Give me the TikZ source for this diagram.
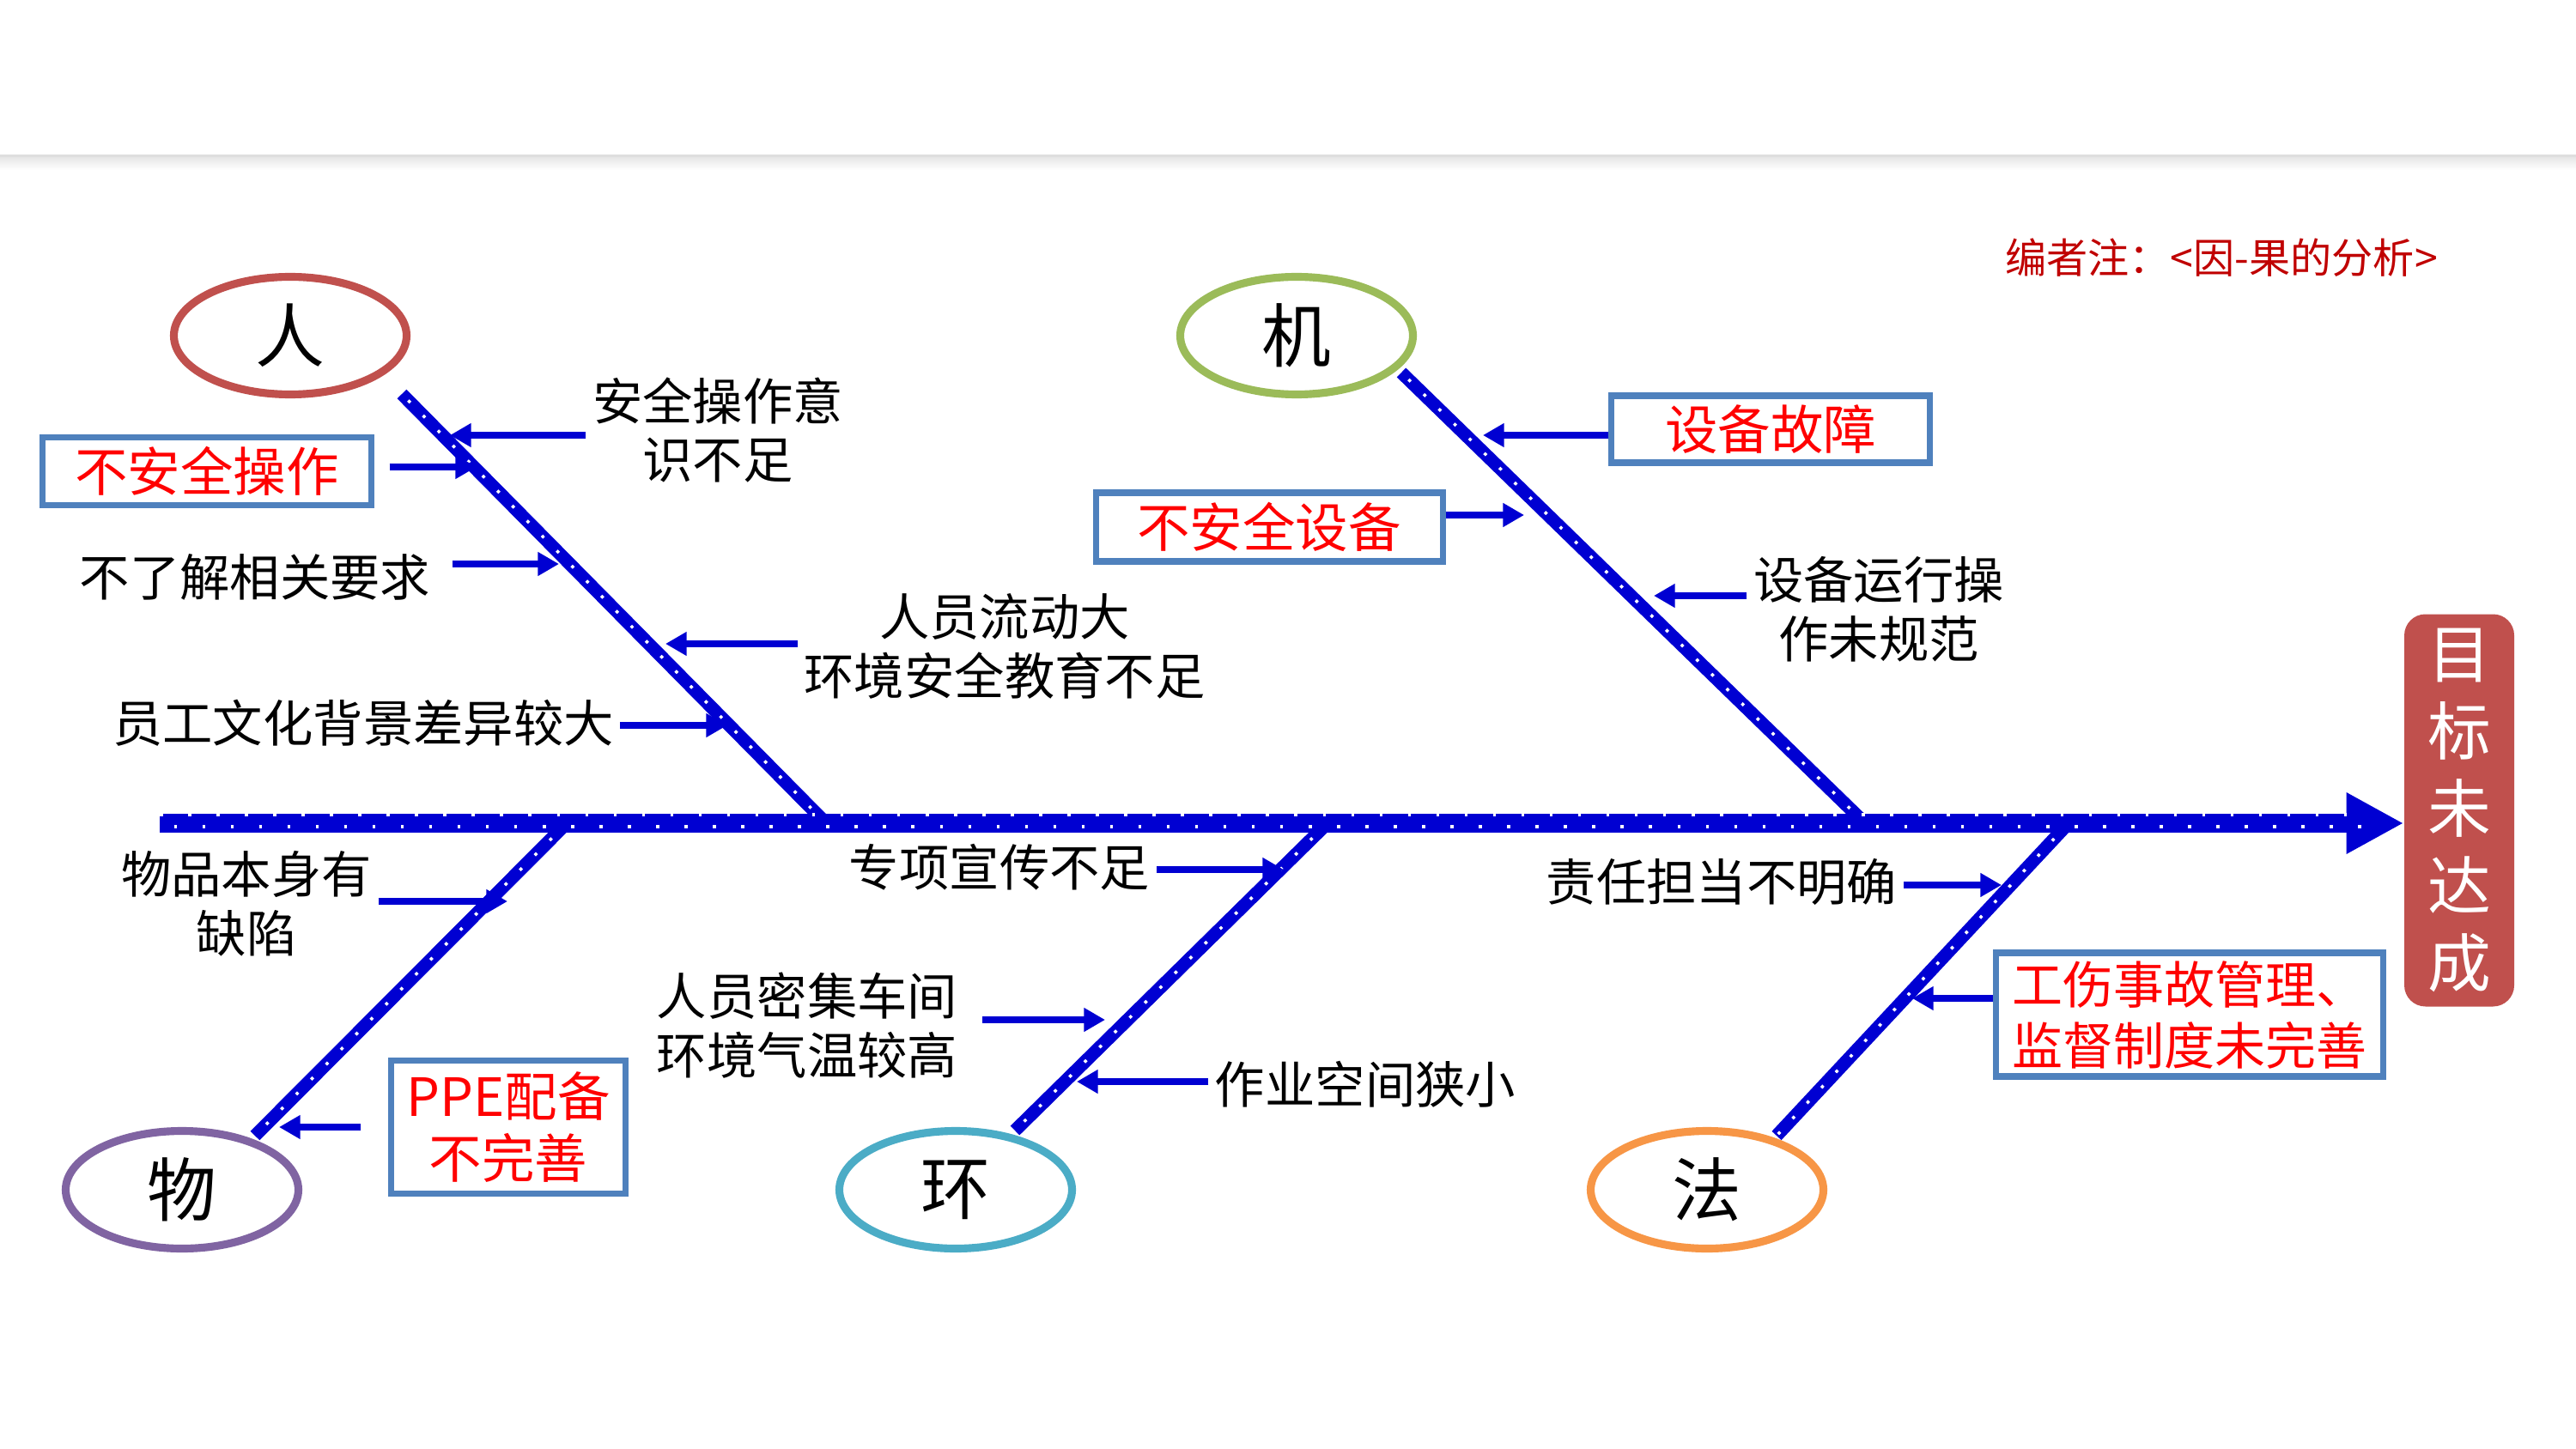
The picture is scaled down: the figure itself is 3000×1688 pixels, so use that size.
\documentclass[tikz,border=0pt]{standalone}
\usepackage{fontspec}
\setmainfont{Noto Sans CJK SC}
\usetikzlibrary{shapes.geometric,arrows.meta}

\definecolor{espinha}{RGB}{0,0,210}
\definecolor{caixa}{RGB}{79,129,189}
\definecolor{alvo}{RGB}{192,80,77}
\definecolor{cpessoa}{RGB}{192,80,77}
\definecolor{cmaquina}{RGB}{155,187,89}
\definecolor{cmaterial}{RGB}{128,100,162}
\definecolor{cambiente}{RGB}{75,172,198}
\definecolor{cmetodo}{RGB}{247,150,70}
\definecolor{cnota}{RGB}{192,0,0}

\tikzset{
  categoria/.style={ellipse, line width=2.6pt, fill=white, inner sep=0pt,
    minimum width=2.71cm, minimum height=1.37cm, font=\fontsize{23}{27}\selectfont},
  rotulo/.style={inner sep=2pt, align=center, font=\fontsize{16.6}{19.6}\selectfont},
  causa/.style={draw=caixa, line width=2pt, fill=white, text=red, align=center,
    inner sep=2pt, font=\fontsize{17.5}{20.6}\selectfont},
  seta/.style={draw=espinha, line width=2.3pt, -{Triangle[length=7pt,width=7.5pt]}},
  osso/.style={draw=espinha, line width=4.3pt},
  pontos/.style={draw=white, line width=1pt, dash pattern=on 1pt off 6pt},
}

\begin{document}
\begin{tikzpicture}[x=0.1mm,y=-0.1mm]
\useasboundingbox (0,0) rectangle (3000,1688);
\fill[white] (0,0) rectangle (3000,1688);

% faixa do topo
\fill[black!13] (0,180) rectangle (3000,184);
\shade[top color=black!9, bottom color=white] (0,184) rectangle (3000,198);

% nota
\node[text=cnota, font=\fontsize{13.7}{16}\selectfont] (nota) at (2587,300) {编者注：<因-果的分析>};

% efeito
\node[fill=alvo, rounded corners=7pt, minimum width=1.28cm, minimum height=4.57cm,
  text=white, align=center, font=\fontsize{21}{25.6}\selectfont] (meta) at (2864,944)
  {目\\标\\未\\达\\成};

\coordinate (cauda) at (186,959);
\coordinate (ponta) at (meta.west |- cauda);

% espinhas
\coordinate (jP) at (962,959);
\coordinate (eP) at (468,459);
\coordinate (jM) at (2172,959);
\coordinate (eM) at (1632,434);
\coordinate (jW) at (660,959);
\coordinate (eW) at (297,1323);
\coordinate (jE) at (1546,959);
\coordinate (eE) at (1182,1317);
\coordinate (jL) at (2409,959);
\coordinate (eL) at (2069,1323);

\draw[osso] (jP) -- (eP);
\draw[osso] (jM) -- (eM);
\draw[osso] (jW) -- (eW);
\draw[osso] (jE) -- (eE);
\draw[osso] (jL) -- (eL);
\draw[pontos] (jP) -- (eP);
\draw[pontos] (jM) -- (eM);
\draw[pontos] (jW) -- (eW);
\draw[pontos] (jE) -- (eE);
\draw[pontos] (jL) -- (eL);

% espinha principal
\draw[osso, line width=6.5pt, -{Triangle[length=19pt,width=19pt]}] (cauda) -- (ponta);
\draw[pontos, dash pattern=on 1pt off 8.4pt] ([yshift=2.8pt]cauda) -- ([yshift=2.8pt,xshift=-12pt]ponta);
\draw[pontos, dash pattern=on 1pt off 8.4pt, dash phase=4.7pt] ([yshift=-1.2pt]cauda) -- ([yshift=-1.2pt,xshift=-12pt]ponta);

% categorias
\node[categoria, draw=cpessoa] (pessoa) at (338,391) {人};
\node[categoria, draw=cmaquina] (maquina) at (1510,391) {机};
\node[categoria, draw=cmaterial] (material) at (212,1386) {物};
\node[categoria, draw=cambiente] (ambiente) at (1113,1386) {环};
\node[categoria, draw=cmetodo] (metodo) at (1988,1386) {法};

% causas
\node[rotulo] (consciencia) at (836,501) {安全操作意\\识不足};
\node[causa, minimum width=3.83cm, minimum height=0.79cm] (inseguro) at (241,549) {不安全操作};
\node[rotulo] (requisitos) at (297,672) {不了解相关要求};
\node[rotulo] (fluxo) at (1170,753) {人员流动大\\环境安全教育不足};
\node[rotulo] (cultura) at (423,842) {员工文化背景差异较大};
\node[causa, minimum width=3.71cm, minimum height=0.78cm] (falha) at (2062,500) {设备故障};
\node[causa, minimum width=4.04cm, minimum height=0.8cm] (equip) at (1478,614) {不安全设备};
\node[rotulo] (operacao) at (2188,710) {设备运行操\\作未规范};
\node[rotulo] (defeito) at (287,1053) {物品本身有\\缺陷};
\node[causa, minimum width=2.73cm, minimum height=1.55cm] (ppe) at (592,1313) {PPE配备\\不完善};
\node[rotulo] (divulgacao) at (1164,1010) {专项宣传不足};
\node[rotulo] (lotacao) at (940,1195) {人员密集车间\\环境气温较高};
\node[rotulo] (espaco) at (1590,1263) {作业空间狭小};
\node[rotulo] (responsab) at (2005,1027) {责任担当不明确};
\node[causa, align=left, minimum width=4.51cm, minimum height=1.44cm,
  font=\fontsize{16.8}{20.2}\selectfont] (gestao) at (2550,1182) {工伤事故管理、\\监督制度未完善};

% setas
\coordinate (t1) at (524,507);
\coordinate (t2) at (555,544);
\coordinate (t3) at (651,657);
\coordinate (t4) at (775,750);
\coordinate (t5) at (847,845);
\coordinate (t6) at (1727,507);
\coordinate (t7) at (1775,600);
\coordinate (t8) at (1926,694);
\coordinate (t9) at (591,1050);
\coordinate (t10) at (325,1313);
\coordinate (t11) at (1495,1013);
\coordinate (t12) at (1287,1188);
\coordinate (t13) at (1254,1260);
\coordinate (t14) at (2331,1031);
\coordinate (t15) at (2227,1163);

\draw[seta] (consciencia.west |- t1) -- (t1);
\draw[seta, shorten <=5pt] (inseguro.east |- t2) -- (t2);
\draw[seta, shorten <=5pt] (requisitos.east |- t3) -- (t3);
\draw[seta] (fluxo.west |- t4) -- (t4);
\draw[seta] (cultura.east |- t5) -- (t5);
\draw[seta] (falha.west |- t6) -- (t6);
\draw[seta] (equip.east |- t7) -- (t7);
\draw[seta] (operacao.west |- t8) -- (t8);
\draw[seta] (defeito.east |- t9) -- (t9);
\draw[seta, shorten <=9pt] (ppe.west |- t10) -- (t10);
\draw[seta] (divulgacao.east |- t11) -- (t11);
\draw[seta, shorten <=6pt] (lotacao.east |- t12) -- (t12);
\draw[seta] (espaco.west |- t13) -- (t13);
\draw[seta] (responsab.east |- t14) -- (t14);
\draw[seta] (gestao.west |- t15) -- (t15);

\end{tikzpicture}
\end{document}
